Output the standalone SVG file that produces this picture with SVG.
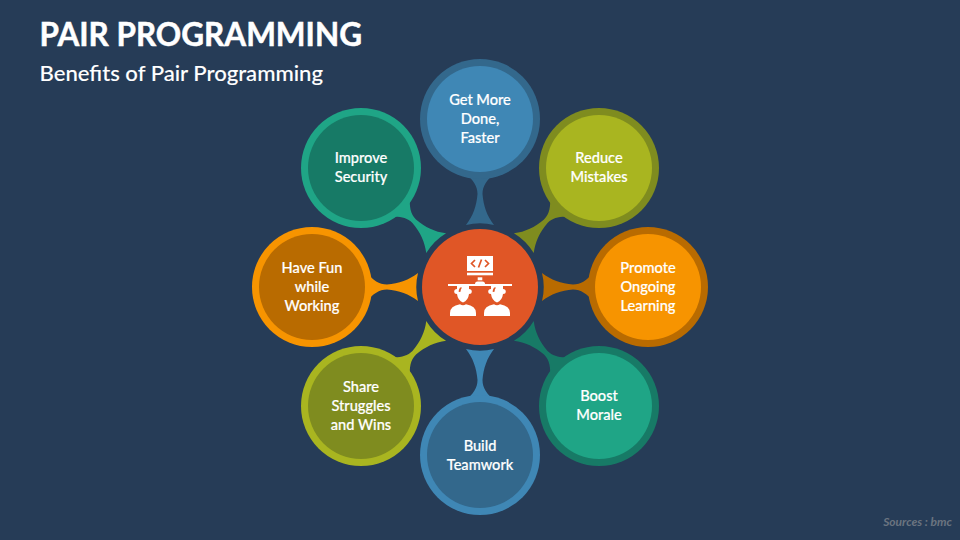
<svg xmlns="http://www.w3.org/2000/svg" width="960" height="540" viewBox="0 0 960 540">
<style>
text{font-family:"Lato","Open Sans","Liberation Sans",sans-serif;fill:#fff}
.t{font-size:14.6px;font-weight:500;text-anchor:middle;paint-order:stroke;stroke:#fff;stroke-width:.2px}
.w{fill:#fff}
.bl{fill:#3f87b5}.bd{fill:#33688c}
.ll{fill:#a9b520}.ld{fill:#7f8c1f}
.al{fill:#f79400}.ad{fill:#b96b00}
.gl{fill:#1fa586}.gd{fill:#177a66}
</style>
<defs>
<path id="conn" d="M62-14Q65.500 0 62 14C71 7 81 3.500 93 2.500C101 2.500 107 7 113 14L113-14C107-7 101-2.500 93-2.500C81-3.500 71-7 62-14Z"/>
</defs>
<rect width="960" height="540" fill="#263c57"/>
<text id="title" x="39.500" y="46" font-size="32.500" font-weight="700" textLength="322.500" lengthAdjust="spacingAndGlyphs" stroke="#fff" stroke-width=".5">PAIR PROGRAMMING</text>
<text id="subtitle" x="39.500" y="81" font-size="22" font-weight="500" textLength="283.500" lengthAdjust="spacingAndGlyphs" stroke="#fff" stroke-width=".1">Benefits of Pair Programming</text>
<text id="source" x="952" y="526" font-size="12" font-weight="700" font-style="italic" text-anchor="end" style="fill:#6b7480">Sources : bmc</text>
<g id="connectors" transform="translate(480 287)">
<use href="#conn" class="bd" transform="rotate(-90)"/>
<use href="#conn" class="ld" transform="rotate(-45)"/>
<use href="#conn" class="ad"/>
<use href="#conn" class="gd" transform="rotate(45)"/>
<use href="#conn" class="bl" transform="rotate(90)"/>
<use href="#conn" class="ll" transform="rotate(135)"/>
<use href="#conn" class="al" transform="rotate(180)"/>
<use href="#conn" class="gl" transform="rotate(225)"/>
</g>
<g id="n-top"><circle cx="480" cy="119" r="60" class="bd"/><circle cx="480" cy="119" r="53" class="bl"/>
<text class="t" x="480" y="105">Get More</text><text class="t" x="480" y="124">Done,</text><text class="t" x="480" y="143">Faster</text></g>
<g id="n-ur"><circle cx="599" cy="168" r="60" class="ld"/><circle cx="599" cy="168" r="53" class="ll"/>
<text class="t" x="599" y="163">Reduce</text><text class="t" x="599" y="182">Mistakes</text></g>
<g id="n-r"><circle cx="648" cy="287" r="60" class="ad"/><circle cx="648" cy="287" r="53" class="al"/>
<text class="t" x="648" y="273">Promote</text><text class="t" x="648" y="292">Ongoing</text><text class="t" x="648" y="311">Learning</text></g>
<g id="n-lr"><circle cx="599" cy="406" r="60" class="gd"/><circle cx="599" cy="406" r="53" class="gl"/>
<text class="t" x="599" y="401">Boost</text><text class="t" x="599" y="420">Morale</text></g>
<g id="n-bottom"><circle cx="480" cy="455" r="60" class="bl"/><circle cx="480" cy="455" r="53" class="bd"/>
<text class="t" x="480" y="451">Build</text><text class="t" x="480" y="470">Teamwork</text></g>
<g id="n-ll"><circle cx="361" cy="406" r="60" class="ll"/><circle cx="361" cy="406" r="53" class="ld"/>
<text class="t" x="361" y="392">Share</text><text class="t" x="361" y="411">Struggles</text><text class="t" x="361" y="430">and Wins</text></g>
<g id="n-l"><circle cx="312" cy="287" r="60" class="al"/><circle cx="312" cy="287" r="53" class="ad"/>
<text class="t" x="312" y="273">Have Fun</text><text class="t" x="312" y="292">while</text><text class="t" x="312" y="311">Working</text></g>
<g id="n-ul"><circle cx="361" cy="168" r="60" class="gl"/><circle cx="361" cy="168" r="53" class="gd"/>
<text class="t" x="361" y="163">Improve</text><text class="t" x="361" y="182">Security</text></g>
<g id="n-center">
<circle cx="480" cy="287" r="58" fill="#e05626"/>
<rect class="w" x="467" y="256" width="26" height="15"/>
<path d="M475 260l-3.500 3.500l3.500 3.500M485 260l3.500 3.500l-3.500 3.500M481.500 259.500l-3 8" fill="none" stroke="#e05626" stroke-width="1.700"/>
<rect class="w" x="467" y="272.700" width="26" height="2.600"/>
<rect class="w" x="477.700" y="277.300" width="4.600" height="3"/>
<path class="w" d="M475 284q0-2.500 2.500-2.500h5q2.500 0 2.500 2.500z"/>
<rect class="w" x="448" y="284" width="64" height="2"/>
<g id="p1"><path class="w" d="M457 286h12v3q2.800 0 2.800 2.500t-2.800 2.500q-.8 6.500-6 8.500q-5.200-2-6-8.500q-2.800 0-2.800-2.500t2.800-2.500z"/>
<path d="M460 287.500q-1.300 2-1.300 4.500l1.800-.3q0-2.500 1.500-4.200z" fill="#e05626"/>
<path class="w" d="M450 316v-3q0-7 10-8.700q3 1.700 6 0q10 1.700 10 8.700v3z"/></g>
<g id="p2"><path class="w" d="M491 286h12v3q2.800 0 2.800 2.500t-2.800 2.500q-.8 6.500-6 8.500q-5.200-2-6-8.500q-2.800 0-2.800-2.500t2.800-2.500z"/>
<path d="M494 287.500q-1.300 2-1.300 4.500l1.800-.3q0-2.500 1.500-4.200z" fill="#e05626"/>
<path class="w" d="M484 316v-3q0-7 10-8.700q3 1.700 6 0q10 1.700 10 8.700v3z"/></g>
</g>
</svg>
